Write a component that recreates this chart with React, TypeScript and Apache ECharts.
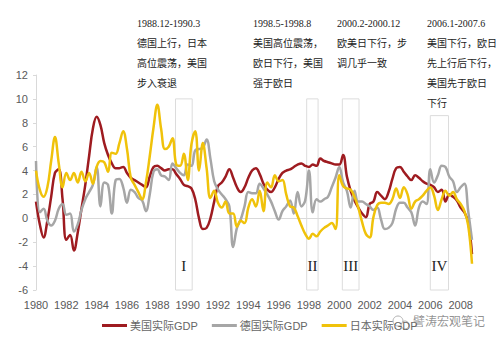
import React, { useEffect, useRef } from "react";
import * as echarts from "echarts";

const startYear = 1980;
// quarterly YoY real GDP growth, 1980Q1 - 2008Q4
const usGdp = [
  1.4, -0.5, -1.6, -0.2, 1.8, 3.8, 4.1, 1.6, -1.8, -1.4, -2.7, -1.2,
  0.8, 2.8, 5.2, 7.5, 8.5, 7.8, 6.3, 5.3, 4.6, 4.2, 4.2, 4.3,
  3.8, 3.4, 3.2, 3.0, 2.8, 2.6, 3.5, 4.3, 4.4, 4.2, 4.0, 4.1,
  4.1, 3.7, 3.3, 2.8, 2.7, 2.5, 1.6, 0.0, -0.9, -0.8, 0.0, 1.4,
  2.7, 3.0, 3.5, 4.1, 3.4, 2.6, 2.2, 2.6, 3.4, 4.0, 4.2, 3.7,
  2.9, 2.4, 2.2, 2.6, 3.3, 3.8, 4.0, 4.1, 4.3, 4.5, 4.6, 4.4,
  4.3, 4.5, 4.4, 5.0, 4.8, 4.7, 4.6, 4.5, 4.5, 5.3, 3.5, 2.3,
  1.5, 0.9, 0.4, 0.1, 1.2, 1.4, 2.2, 1.9, 1.6, 2.2, 3.3, 4.2,
  4.3, 3.9, 3.5, 3.2, 3.6, 3.4, 3.1, 2.9, 2.8, 2.6, 2.2, 2.4,
  1.4, 2.0, 1.8, 1.5, 0.9, 0.5, -0.3, -3.0,
];
const deGdp = [
  4.8, 0.5, 0.8, -0.2, -0.6, -0.2, 0.8, 1.2, 0.3, 0.4, -1.1, -0.5,
  0.7, 1.6, 2.2, 2.8, 4.3, 1.0, 3.0, 2.8, 0.4, 3.2, 3.3, 2.6,
  1.3, 2.4, 2.2, 1.7, 1.5, 0.6, 2.0, 3.9, 4.1, 3.6, 3.5, 3.2,
  4.6, 4.2, 3.8, 3.6, 4.5, 4.4, 5.7, 5.8, 5.9, 6.6, 5.0, 3.1,
  2.4, 2.0, 1.6, 1.0, -2.4, -0.8, -0.1, 1.0, 2.2, 2.1, 2.1, 2.9,
  2.5, 2.0, 1.4, 0.6, -0.1, 0.6, 1.0, 1.5, 0.4, 2.2, 1.0, 1.5,
  4.0, 0.5, 1.6, 1.4, 1.6, 1.8, 2.6, 3.4, 4.3, 3.0, 2.3, 0.9,
  2.3, 1.4, 1.4, 1.2, 1.0, 0.7, 0.9, -0.1, -0.9, -0.8, -0.4, 0.8,
  1.3, 1.3, 0.9, 0.5, -0.6, 0.9, 1.4, 1.2, 4.1, 3.0, 3.6, 4.4,
  4.3, 3.5, 3.1, 2.2, 2.6, 2.9, 0.6, -1.8,
];
const jpGdp = [
  4.0, 2.4, 1.8, 2.6, 4.8, 6.8, 4.6, 2.6, 3.8, 3.2, 3.8, 3.0,
  3.9, 3.1, 3.8, 2.9, 4.3, 4.8, 4.7, 3.9, 5.5, 5.4, 6.3, 7.3,
  5.8, 3.4, 2.8, 2.2, 1.6, 3.0, 5.2, 7.6, 9.5, 7.5, 5.8, 6.0,
  6.7, 4.5, 4.4, 5.4, 3.2, 6.2, 7.3, 4.0, 6.3, 4.2, 1.7, 2.3,
  1.3, 0.9, 1.4, 0.4, 0.4, -0.7, -0.2, -0.4, 0.9, 1.6, 1.0, 2.3,
  0.6, 3.0, 2.6, 3.6, 3.1, 3.2, 2.0, 1.0, 0.9, 0.2, -0.6, -1.3,
  -1.7, -1.3, -1.5, -1.1, -0.8, -0.6, -0.4, -0.9, 3.6, 2.7, 2.5, 2.4,
  1.8, 0.9, -0.3, -1.3, -1.6, 0.1, 1.1, 1.3, 1.3, 1.2, 1.6, 2.5,
  1.7, 2.6, 2.0, 0.8, 1.4, 1.6, 1.9, 2.3, 2.6, 1.9, 0.7, 1.6,
  2.3, 1.9, 2.2, 1.6, 1.2, 0.6, -0.6, -3.8,
];

const seriesNames = ["美国实际GDP", "德国实际GDP", "日本实际GDP"];
const seriesColors = ["#9e1b20", "#a6a6a6", "#f0c20a"];

// highlighted periods
const periodLabels = ["I", "II", "III", "IV"];
const periodFrom = [1989.2, 1997.85, 2000.2, 2006.0];
const periodTo = [1990.3, 1998.6, 2001.3, 2007.2];
const periodTop = [10, 10, 10, 8.6];

const notes = [
  "1988.12-1990.3\n德国上行，日本\n高位震荡，美国\n步入衰退",
  "1998.5-1998.8\n美国高位震荡，\n欧日下行，美国\n强于欧日",
  "2000.2-2000.12\n欧美日下行，步\n调几乎一致",
  "2006.1-2007.6\n美国下行，欧日\n先上行后下行，\n美国先于欧日\n下行",
];
const noteX = [137, 253, 337, 427];

const sans = "'Liberation Sans', 'Noto Sans CJK SC', sans-serif";
const serif = "'Liberation Serif', 'Noto Sans CJK SC', serif";

export default function App() {
  const ref = useRef<HTMLDivElement>(null);
  useEffect(() => {
    if (!ref.current) return;
    const chart = echarts.init(ref.current, undefined, { renderer: "svg" });
    const toPairs = (arr: number[]) => arr.map((v, i) => [startYear + i / 4, v]);
    const allSeries = [usGdp, deGdp, jpGdp].map((arr, k) => ({
      name: seriesNames[k],
      type: "line",
      data: toPairs(arr),
      smooth: 0.4,
      showSymbol: false,
      symbol: "none",
      lineStyle: { width: 2.5, color: seriesColors[k] },
      itemStyle: { color: seriesColors[k] },
      z: 3 + k,
      ...(k === 0
        ? {
            markArea: {
              silent: true,
              itemStyle: {
                color: "rgba(255,255,255,0)",
                borderColor: "#dcdcdc",
                borderWidth: 1,
              },
              label: {
                show: true,
                position: "insideBottom",
                distance: 17,
                fontFamily: serif,
                fontSize: 15,
                color: "#222",
              },
              data: periodLabels.map((name, j) => [
                { name, xAxis: periodFrom[j], yAxis: periodTop[j] },
                { xAxis: periodTo[j], yAxis: -6 },
              ]),
            },
          }
        : {}),
    }));

    chart.setOption({
      animation: false,
      backgroundColor: "#ffffff",
      grid: { left: 36, right: 28, top: 75, bottom: 55 },
      legend: {
        bottom: 9,
        left: 97,
        itemWidth: 25,
        itemHeight: 3,
        itemGap: 14,
        icon: "rect",
        textStyle: { fontFamily: sans, fontSize: 11, color: "#666", padding: [0, 0, 0, -2] },
        data: seriesNames,
      },
      xAxis: [
        {
          type: "value",
          min: 1980,
          max: 2008.75,
          interval: 2,
          axisLine: { show: false, onZero: false },
          axisTick: { show: false },
          splitLine: { show: false },
          axisLabel: {
            fontFamily: sans,
            fontSize: 11,
            color: "#595959",
            margin: 9,
            showMaxLabel: false,
            formatter: (v: number) => String(v),
          },
        },
        {
          type: "value",
          min: 1980,
          max: 2008.75,
          interval: 2,
          position: "bottom",
          axisLine: { show: true, onZero: true, lineStyle: { color: "#d9d9d9", width: 1 } },
          axisTick: { show: false },
          axisLabel: { show: false },
          splitLine: { show: false },
        },
      ],
      yAxis: {
        type: "value",
        min: -6,
        max: 12,
        interval: 2,
        axisLine: { show: true, lineStyle: { color: "#d9d9d9" } },
        axisTick: { show: true, length: 3, lineStyle: { color: "#d9d9d9" } },
        splitLine: { show: false },
        axisLabel: { fontFamily: sans, fontSize: 11, color: "#595959", margin: 8 },
      },
      graphic: [
        ...notes.map((t, j) => ({
          type: "text",
          left: noteX[j],
          top: 13,
          silent: true,
          style: {
            text: t,
            fontFamily: serif,
            fontSize: 10,
            lineHeight: 20,
            fill: "#222",
          },
        })),
        {
          type: "circle",
          shape: { cx: 398, cy: 321, r: 5 },
          silent: true,
          style: { fill: "rgba(255,255,255,0.6)", stroke: "#b0b0b0", lineWidth: 1 },
        },
        {
          type: "circle",
          shape: { cx: 405, cy: 325, r: 4 },
          silent: true,
          style: { fill: "rgba(255,255,255,0.6)", stroke: "#b0b0b0", lineWidth: 1 },
        },
        {
          type: "text",
          left: 413,
          top: 316,
          silent: true,
          style: {
            text: "譬涛宏观笔记",
            fontFamily: sans,
            fontSize: 12,
            fill: "rgba(110,110,110,0.75)",
          },
        },
      ],
      series: allSeries,
    });
    return () => chart.dispose();
  }, []);
  return (
    <div
      ref={ref}
      style={{ position: "fixed", left: 0, top: 0, width: 500, height: 345 }}
    />
  );
}
